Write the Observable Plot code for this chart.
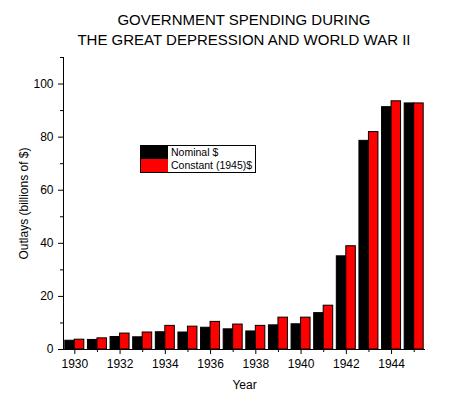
<!DOCTYPE html>
<html>
<head>
<meta charset="utf-8">
<script src="https://cdn.jsdelivr.net/npm/d3@7"></script>
<script src="https://cdn.jsdelivr.net/npm/@observablehq/plot@0.6"></script>
<style>
  html, body { margin: 0; padding: 0; background: #fff; }
  #wrap { position: relative; width: 449px; height: 396px; font-family: "Liberation Sans", Arial, sans-serif; }
  #title { box-sizing: border-box; height: 50px; padding-top: 10px; padding-left: 63px; width: 425px;
           text-align: center; font-size: 15px; line-height: 20px; color: #000; }
  #legend { position: absolute; left: 140px; top: 145px; width: 114px; border: 1px solid #000; background: #fff;
            font-size: 10.5px; white-space: nowrap; }
  #legend .row { display: flex; align-items: center; height: 13px; line-height: 13px; }
  #legend .sw { width: 27px; height: 13px; margin-right: 3px; flex: none; }
</style>
</head>
<body>
<div id="wrap">
  <div id="title">GOVERNMENT SPENDING DURING<br>THE GREAT DEPRESSION AND WORLD WAR II</div>
  <div id="chart"></div>
  <div id="legend"></div>
</div>
<script>
const years    = [1930, 1931, 1932, 1933, 1934, 1935, 1936, 1937, 1938, 1939, 1940, 1941, 1942, 1943, 1944, 1945];
const nominal  = [3.3, 3.6, 4.7, 4.6, 6.5, 6.4, 8.2, 7.6, 6.8, 9.1, 9.5, 13.7, 35.1, 78.6, 91.3, 92.7];
const constant = [3.7, 4.2, 6.0, 6.4, 8.9, 8.6, 10.4, 9.4, 8.9, 12.0, 12.0, 16.5, 38.9, 81.9, 93.5, 92.7];
const seriesNames  = ["Nominal $", "Constant (1945)$"];
const seriesColors = ["#000000", "#ff0000"];
const majorYearTicks = [1930, 1932, 1934, 1936, 1938, 1940, 1942, 1944];
const minorYearTicks = [1931, 1933, 1935, 1937, 1939, 1941, 1943, 1945];
const majorYTicks = [0, 20, 40, 60, 80, 100];
const minorYTicks = [10, 30, 50, 70, 90, 110];

const half = 0.42;
const rows = [];
years.forEach((yr, i) => {
  rows.push({year: yr, series: seriesNames[0], value: nominal[i], x1: yr - half, x2: yr});
  rows.push({year: yr, series: seriesNames[1], value: constant[i], x1: yr, x2: yr + half});
});

const chart = Plot.plot({
  width: 449,
  height: 346,
  marginLeft: 63,
  marginRight: 24,
  marginTop: 7,
  marginBottom: 47,
  style: {fontFamily: "'Liberation Sans', Arial, sans-serif", fontSize: "12px", color: "#000", background: "#fff"},
  x: {domain: [1929.5, 1945.5]},
  y: {domain: [0, 110]},
  color: {domain: seriesNames, range: seriesColors},
  marks: [
    Plot.rectY(rows, {x1: "x1", x2: "x2", y: "value", fill: "series", stroke: "#000", strokeWidth: 1}),
    Plot.ruleY([0], {stroke: "#000"}),
    Plot.ruleX([1929.5], {y1: 0, y2: 110, stroke: "#000"}),
    Plot.axisX({ticks: majorYearTicks, tickFormat: "d", tickSize: 5, tickPadding: 5, fontSize: 12,
                label: "Year", labelAnchor: "center", labelOffset: 39, labelArrow: "none"}),
    Plot.axisX({ticks: minorYearTicks, tickFormat: () => "", tickSize: 3, label: null}),
    Plot.axisY({ticks: majorYTicks, tickSize: 5, tickPadding: 5, fontSize: 12,
                label: "Outlays (billions of $)", labelAnchor: "center", labelOffset: 44, labelArrow: "none"}),
    Plot.axisY({ticks: minorYTicks, tickFormat: () => "", tickSize: 3, label: null})
  ]
});
document.getElementById("chart").appendChild(chart);

const legend = document.getElementById("legend");
seriesNames.forEach((name, i) => {
  const row = document.createElement("div");
  row.className = "row";
  const sw = document.createElement("div");
  sw.className = "sw";
  sw.style.background = seriesColors[i];
  const label = document.createElement("span");
  label.textContent = name;
  row.appendChild(sw);
  row.appendChild(label);
  legend.appendChild(row);
});
</script>
</body>
</html>
